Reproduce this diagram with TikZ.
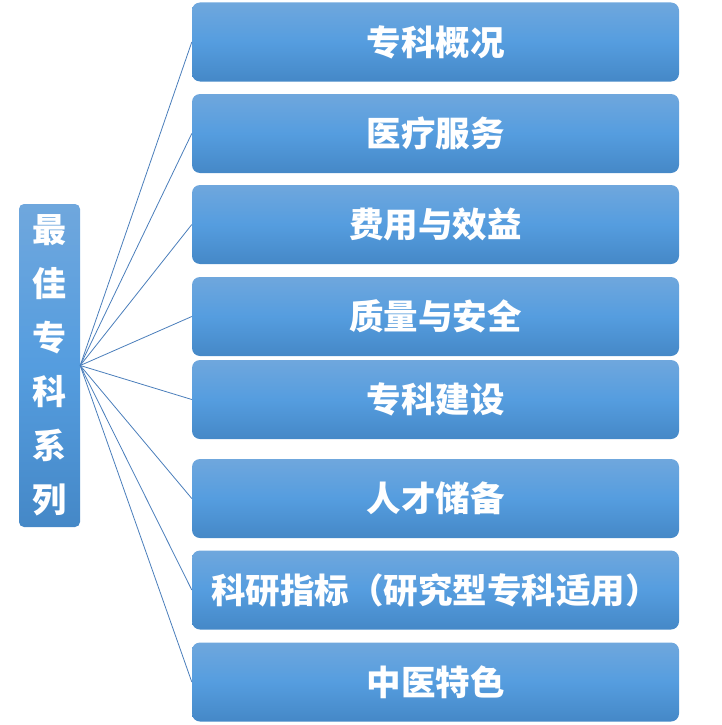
\documentclass[tikz,border=0pt]{standalone}
\usepackage{fontspec}
\newfontfamily\cjk{Noto Sans CJK SC}
\definecolor{boxtop}{HTML}{6FA7DD}
\definecolor{boxmid}{HTML}{559DDF}
\definecolor{boxbot}{HTML}{4588C7}
\definecolor{linkline}{HTML}{4A7EBB}

\begin{document}
\begin{tikzpicture}[x=1pt,y=-1pt,
  itembox/.style={rounded corners=8pt,top color=boxtop,bottom color=boxbot,
    middle color=boxmid,text=white,minimum width=487pt,minimum height=79pt,
    inner sep=0pt,font=\cjk\bfseries\fontsize{34.5}{35}\selectfont},
  link/.style={linkline,line width=0.8pt}]
  \useasboundingbox (0,0) rectangle (721,725);

  % left title bar
  \node[itembox,rounded corners=5pt,minimum width=61pt,minimum height=323pt,
    align=center,font=\cjk\bfseries\fontsize{34}{54}\selectfont]
    (title) at (49.5,365.5) {最\\佳\\专\\科\\系\\列};

  % item boxes and links
  \foreach \i/\y/\lab in {1/42/专科概况, 2/133.5/医疗服务, 3/224.5/费用与效益,
      4/316.5/质量与安全, 5/399.5/专科建设, 6/498.5/人才储备,
      7/590/科研指标（研究型专科适用）, 8/682/中医特色} {
    \node[itembox] (b\i) at (435.5,\y) {\lab};
    \draw[link] (title.east) -- (b\i.west);
  }
\end{tikzpicture}
\end{document}
